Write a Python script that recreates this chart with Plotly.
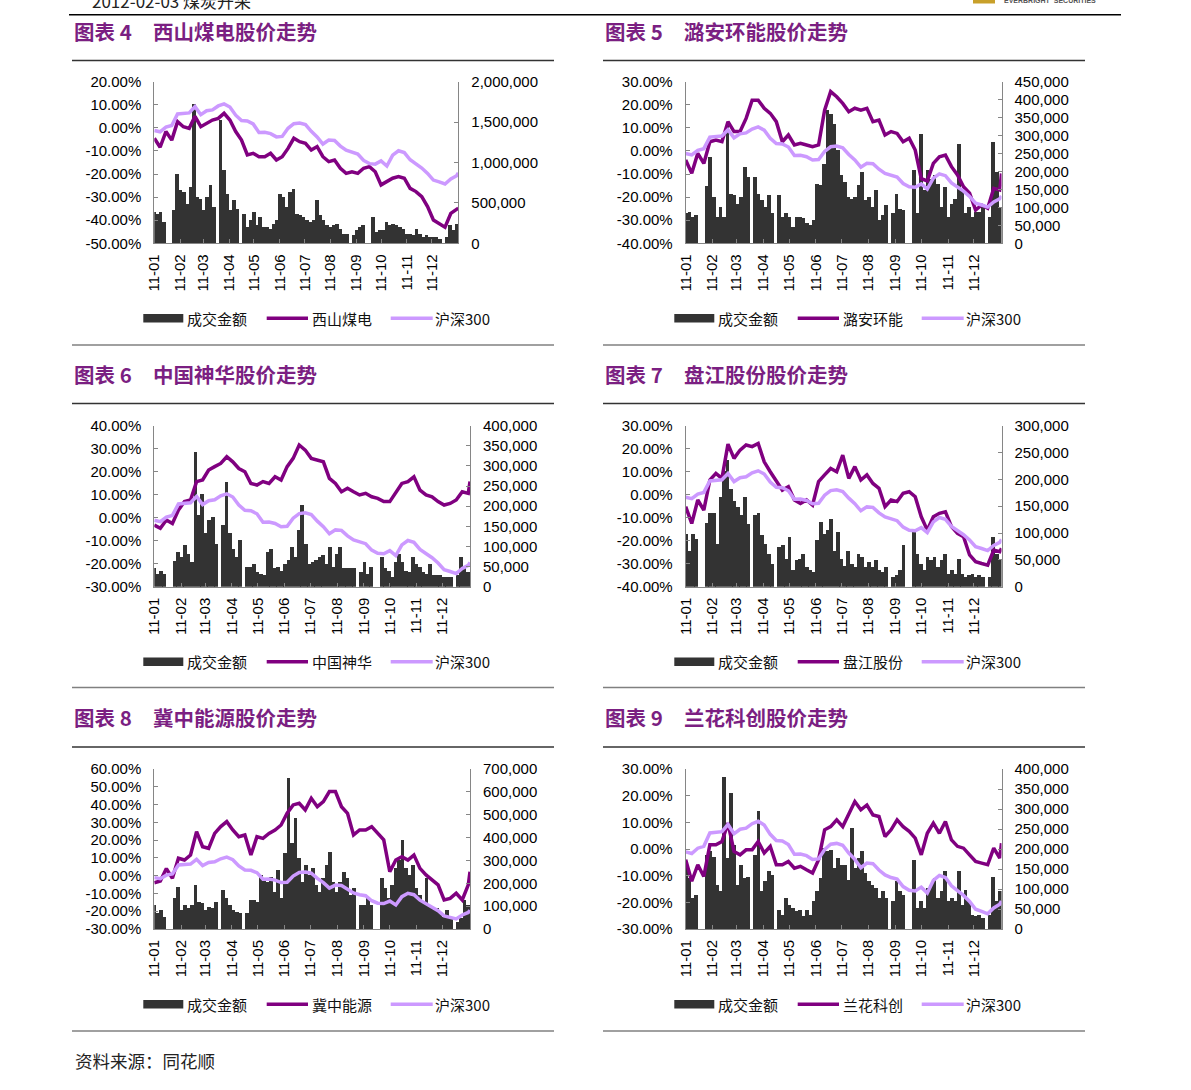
import plotly.graph_objects as go
import pandas as pd

W, H = 1191, 1090
START = pd.Timestamp("2011-01-18")
END = pd.Timestamp("2012-01-19")

# weekly points for price lines (last point = end of data), every 4 days for turnover bars
line_dates = [START + pd.Timedelta(days=7 * k) for k in range(53)] + [END]
bar_dates = [START + pd.Timedelta(days=4 * j) for j in range(92)]
month_ticks = [pd.Timestamp(2011, m, 18) for m in range(1, 13)]
month_labels = ["11-%02d" % m for m in range(1, 13)]

# 沪深300 cumulative change (%)
hs300 = [-1.1, -1.7, 0.3, 1.0, 6.0, 6.1, 6.5, 9.2, 5.7, 7.4,
         7.8, 9.5, 10.4, 9.0, 5.5, 3.2, 3.0, 1.7, -2.0, -1.9,
         -2.5, -3.9, -3.7, -0.2, 1.8, 2.1, 1.4, -1.5, -3.9, -7.0,
         -5.3, -5.5, -7.9, -9.7, -10.7, -11.3, -14.1, -15.5, -15.7, -14.3,
         -16.5, -11.8, -9.9, -10.7, -13.8, -15.6, -17.4, -19.7, -22.6, -23.4,
         -24.3, -22.1, -20.7, -19.5]

# stock cumulative change (%)
xishan = [-4.5, -8.4, -1.6, -5.3, 2.7, 0.5, -0.2, 5.0, 0.5, 2.0,
          3.4, 4.1, 6.3, 3.4, -1.6, -5.3, -11.7, -11.0, -12.5, -12.5,
          -11.0, -13.9, -12.5, -8.9, -4.5, -6.0, -6.7, -9.6, -8.1, -12.5,
          -14.6, -13.9, -17.5, -19.7, -19.0, -19.7, -17.5, -16.8, -19.0, -24.7,
          -23.3, -21.8, -21.1, -21.8, -26.2, -27.6, -29.8, -34.1, -39.9, -41.3,
          -43.0, -37.0, -35.6, -34.8]
luan = [-3.9, -9.7, -1.0, -5.4, 4.0, 4.7, 4.0, 12.7, 8.4, 8.4,
        14.1, 22.0, 22.0, 18.5, 16.3, 12.7, 4.0, 6.9, 2.6, 3.3,
        2.6, 1.9, 2.6, 17.7, 25.7, 23.5, 20.6, 17.0, 18.5, 17.7,
        18.5, 12.7, 13.4, 6.9, 8.4, 7.6, 4.0, 5.5, 0.4, -12.0,
        -13.0, -5.4, -2.5, -1.8, -6.8, -10.4, -15.5, -18.3, -25.6, -23.4,
        -24.8, -16.2, -16.9, -9.7]
shenhua = [-3.2, -4.6, -1.0, -2.5, 3.3, 7.0, 7.7, 15.7, 16.4, 20.7,
           22.2, 23.6, 26.5, 24.3, 21.4, 20.0, 14.9, 14.2, 15.7, 14.9,
           17.8, 16.4, 22.2, 25.8, 31.6, 29.4, 25.8, 25.1, 24.3, 17.1,
           14.9, 11.3, 12.8, 11.3, 9.9, 10.6, 9.1, 8.4, 7.0, 7.0,
           11.3, 14.9, 15.7, 17.8, 12.0, 9.9, 9.1, 7.0, 5.5, 6.2,
           7.7, 11.3, 10.6, 15.7]
panjiang = [-5.2, -12.5, -2.3, -6.7, 6.4, 9.3, 7.1, 22.0, 15.8, 19.4,
            21.6, 20.9, 22.3, 14.3, 10.0, 5.7, 2.0, 3.5, -2.3, -3.8,
            -2.3, -4.5, 5.7, 8.6, 11.4, 10.0, 17.2, 7.1, 12.2, 6.4,
            8.6, 4.9, 2.8, -5.2, -2.3, -3.0, 0.6, 1.3, -0.9, -9.6,
            -15.4, -9.6, -8.1, -7.4, -13.9, -16.8, -18.3, -26.2, -29.1, -29.9,
            -30.6, -24.1, -24.8, -23.3]
jizhong = [-4.0, -3.0, 4.0, -1.5, 9.8, 8.8, 11.6, 24.8, 16.3, 15.4,
           23.8, 27.6, 30.4, 25.7, 21.9, 22.9, 11.6, 21.9, 21.0, 23.8,
           25.7, 28.5, 35.1, 39.8, 40.7, 37.0, 43.5, 38.8, 41.6, 47.3,
           47.3, 38.8, 35.1, 22.9, 25.7, 25.7, 27.6, 23.8, 20.1, 2.2,
           8.8, 10.7, 8.8, 11.6, 4.1, 0.4, -2.4, -5.2, -13.7, -12.8,
           -9.9, -13.7, -5.2, 2.2]
lanhua = [-4.0, -12.1, -5.9, -10.3, 1.6, 1.6, 2.8, 9.7, -0.9, -2.2,
          -0.3, -0.3, 2.8, -1.5, 1.0, -5.9, -5.9, -4.7, -7.2, -6.5,
          -7.8, -9.0, -4.0, 7.2, 8.4, 10.9, 8.4, 12.8, 17.8, 14.7,
          16.5, 12.8, 12.2, 4.7, 7.2, 10.9, 8.4, 6.6, 4.1, -2.2,
          5.9, 9.7, 5.9, 10.3, 3.4, 1.0, 0.3, -2.2, -4.7, -5.3,
          -5.9, 0.3, -3.4, 2.2]

# 成交金额 (thousands); None = market closed
N = None
vol_xishan = [392, 371, 392, 268, N, N, 412, 866, 660, 639,
              495, 701, 1732, 577, 557, 412, 577, 722, 454, N,
              1526, 907, 619, 412, 536, 433, N, 371, 206, 289,
              392, 227, 330, 206, 206, 186, 247, 289, 619, 577,
              454, 639, 680, 371, 350, 330, 289, 268, 289, 536,
              350, 289, 227, 206, 227, 247, 186, 124, 124, N,
              103, 165, 206, 227, N, N, 330, 144, 165, 165,
              268, 227, 247, 227, 206, 186, 124, 124, 103, 186,
              124, 82, 103, 82, 82, 82, 62, N, 82, 227,
              165, 247]
vol_luan = [84, 88, 74, 79, N, N, 160, 241, 130, 74,
            102, 74, 339, 139, 135, 111, 130, 213, 186, N,
            186, 139, 121, 102, 135, 84, N, 135, 74, 84,
            74, 46, 74, 74, 70, 56, 51, 65, 167, 162,
            223, 371, 362, 334, 260, 190, 172, 130, 125, 130,
            162, 199, 121, 130, 102, 148, 65, 79, 107, N,
            84, 139, 97, 93, N, N, 204, 84, 306, 148,
            204, 181, 190, 167, 102, 158, 74, 111, 125, 278,
            148, 84, 102, 74, 88, 88, 102, N, 74, 283,
            199, 102]
vol_shenhua = [46, 33, 41, 33, N, N, 65, 87, 75, 104,
               83, 62, 335, 178, 232, 133, 166, 174, 108, N,
               153, 261, 133, 95, 75, 116, N, 50, 50, 58,
               37, 33, 29, 87, 95, 46, 50, 41, 58, 66,
               99, 75, 141, 203, 108, 58, 62, 66, 75, 79,
               58, 99, 50, 83, 99, 46, 46, 46, 46, N,
               37, 62, 33, 50, N, N, 75, 46, 41, 25,
               62, 83, 62, 41, 37, 75, 58, 50, 37, 33,
               58, 29, 29, 29, 25, 25, 25, N, 29, 75,
               50, 37]
vol_panjiang = [99, 68, 99, 90, N, N, 120, 137, 137, 81,
                168, 217, 236, 183, 161, 149, 134, 168, 118, N,
                134, 137, 96, 81, 62, 43, N, 75, 78, 53,
                93, 31, 50, 53, 62, 37, 31, 28, 87, 121,
                99, 106, 127, 68, 102, 53, 40, 68, 43, 37,
                62, 56, 37, 47, 37, 50, 31, 28, 37, N,
                19, 22, 31, 78, N, N, 106, 62, 43, 31,
                56, 50, 56, 37, 50, 62, 25, 31, 25, 53,
                25, 19, 22, 25, 19, 22, 19, N, 19, 93,
                62, 53]
vol_jizhong = [105, 69, 83, 54, N, N, 134, 185, 83, 105,
               90, 105, 192, 120, 112, 83, 98, 90, 120, N,
               171, 134, 105, 83, 76, 69, N, 69, 127, 127,
               120, 236, 214, 207, 229, 163, 258, 134, 331, 659,
               375, 484, 309, 207, 280, 236, 265, 192, 163, 222,
               280, 338, 207, 163, 207, 251, 222, 149, 178, N,
               105, 105, 134, 105, N, N, 222, 178, 134, 192,
               265, 302, 389, 265, 236, 280, 178, 149, 120, 222,
               105, 98, 90, 76, 54, 83, 47, N, 32, 47,
               127, 105]
vol_lanhua = [160, 127, 77, 86, N, N, 185, 194, 181, 111,
              94, 381, 177, 339, 210, 111, 160, 127, 131, N,
              185, 294, 94, 119, 144, 136, N, 48, 36, 77,
              61, 52, 44, 48, 32, 48, 36, 69, 94, 127,
              202, 194, 198, 152, 177, 160, 160, 123, 252, 152,
              177, 194, 140, 119, 111, 102, 77, 94, 77, N,
              69, 119, 94, 86, N, N, 173, 52, 69, 52,
              102, 111, 127, 77, 94, 144, 69, 77, 69, 144,
              61, 98, 69, 36, 32, 36, 27, N, 36, 131,
              69, 94]

panels = [
    dict(no=4, name="西山煤电", stock=xishan, vol=vol_xishan, pr=(-50, 20), vmax=2000000, vd=500000,
         box=(154.3, 458.3, 81.7, 243.3), col=0, row=0),
    dict(no=5, name="潞安环能", stock=luan, vol=vol_luan, pr=(-40, 30), vmax=450000, vd=50000,
         box=(685.7, 1001.5, 81.7, 243.3), col=1, row=0),
    dict(no=6, name="中国神华", stock=shenhua, vol=vol_shenhua, pr=(-30, 40), vmax=400000, vd=50000,
         box=(154.3, 470.0, 425.7, 586.7), col=0, row=1),
    dict(no=7, name="盘江股份", stock=panjiang, vol=vol_panjiang, pr=(-40, 30), vmax=300000, vd=50000,
         box=(685.7, 1001.5, 425.7, 586.7), col=1, row=1),
    dict(no=8, name="冀中能源", stock=jizhong, vol=vol_jizhong, pr=(-30, 60), vmax=700000, vd=100000,
         box=(154.3, 470.0, 769.0, 929.0), col=0, row=2),
    dict(no=9, name="兰花科创", stock=lanhua, vol=vol_lanhua, pr=(-30, 30), vmax=400000, vd=50000,
         box=(685.7, 1001.5, 769.0, 929.0), col=1, row=2),
]

PURPLE = "#800080"
LIGHT = "#CC99FF"
BAR = "#333333"
AXC = "#868686"
TITLE_C = "#7B1F82"
LAT = "Liberation Sans, Arial, sans-serif"
CJK = "Noto Sans CJK SC, sans-serif"


def px(x):
    return x / W


def py(y):
    return 1 - y / H


fig = go.Figure()
layout = dict(width=W, height=H, margin=dict(l=0, r=0, t=0, b=0), paper_bgcolor="white",
              plot_bgcolor="rgba(0,0,0,0)", showlegend=False, shapes=[], annotations=[],
              bargap=0)

title_y = [31, 374, 717]
top_rule = [60.5, 403.5, 747]
bot_rule = [345, 687.5, 1031]
leg_y = [318.3, 661.7, 1004.3]
col_off = [0, 531.0]

for i, p in enumerate(panels):
    xn = "" if i == 0 else str(i + 1)
    yb = 2 * i + 1
    yl = 2 * i + 2
    ybn = "" if yb == 1 else str(yb)
    yln = str(yl)
    x0, x1, t, b = p["box"]
    vols = [v * 1000 if v is not None else None for v in p["vol"]]
    fig.add_trace(go.Bar(x=bar_dates[:len(vols)], y=vols, marker=dict(color=BAR, line=dict(width=0)),
                         width=4.4 * 86400000, xaxis="x" + xn, yaxis="y" + ybn))
    fig.add_trace(go.Scatter(x=line_dates[:len(p["stock"])], y=p["stock"], mode="lines",
                             line=dict(color=PURPLE, width=3.5), xaxis="x" + xn, yaxis="y" + yln))
    fig.add_trace(go.Scatter(x=line_dates[:len(hs300)], y=hs300, mode="lines",
                             line=dict(color=LIGHT, width=3.5), xaxis="x" + xn, yaxis="y" + yln))

    layout["xaxis" + xn] = dict(domain=[px(x0), px(x1)], anchor="y" + ybn, type="date",
                                range=[START, END], tickvals=month_ticks, ticktext=month_labels,
                                tickangle=-90, ticks="inside", ticklen=4, tickcolor=AXC,
                                showline=True, linecolor=AXC, linewidth=1, showgrid=False,
                                zeroline=False, automargin=False, ticklabelstandoff=4,
                                tickfont=dict(family=LAT, size=15, color="#000"))
    vt = list(range(0, p["vmax"] + 1, p["vd"]))
    layout["yaxis" + ybn] = dict(domain=[py(b), py(t)], anchor="x" + xn, side="right",
                                 range=[0, p["vmax"]], tickvals=vt, ticktext=[f"{v:,}" for v in vt],
                                 ticks="inside", ticklen=4, tickcolor=AXC, showline=True,
                                 linecolor=AXC, linewidth=1, showgrid=False, zeroline=False,
                                 automargin=False, ticklabelstandoff=9,
                                 tickfont=dict(family=LAT, size=15, color="#000"))
    pt = list(range(p["pr"][0], p["pr"][1] + 1, 10))
    layout["yaxis" + yln] = dict(overlaying="y" + ybn, anchor="x" + xn, side="left",
                                 range=list(p["pr"]), tickvals=pt,
                                 ticktext=[f"{v:.2f}%" for v in pt],
                                 ticks="inside", ticklen=4, tickcolor=AXC, showline=True,
                                 linecolor=AXC, linewidth=1, showgrid=False, zeroline=False,
                                 automargin=False, ticklabelstandoff=9,
                                 tickfont=dict(family=LAT, size=15, color="#000"))

    r, c = p["row"], p["col"]
    o = col_off[c]
    # title
    layout["annotations"].append(dict(text="<b>图表 %d</b>" % p["no"], x=px(72 + o), y=py(title_y[r]),
                                      xref="paper", yref="paper", xanchor="left", yanchor="middle",
                                      showarrow=False, font=dict(family=CJK, size=20.5, color=TITLE_C)))
    layout["annotations"].append(dict(text="<b>%s股价走势</b>" % p["name"], x=px(151 + o), y=py(title_y[r]),
                                      xref="paper", yref="paper", xanchor="left", yanchor="middle",
                                      showarrow=False, font=dict(family=CJK, size=20.5, color=TITLE_C)))
    # rules
    layout["shapes"].append(dict(type="line", xref="paper", yref="paper", x0=px(72 + o), x1=px(554 + o),
                                 y0=py(top_rule[r]), y1=py(top_rule[r]), line=dict(color="#333333", width=1.3)))
    layout["shapes"].append(dict(type="line", xref="paper", yref="paper", x0=px(72 + o), x1=px(554 + o),
                                 y0=py(bot_rule[r]), y1=py(bot_rule[r]), line=dict(color="#808080", width=1.6)))
    # legend
    ly = leg_y[r]
    layout["shapes"].append(dict(type="rect", xref="paper", yref="paper", x0=px(143.3 + o), x1=px(183.3 + o),
                                 y0=py(ly + 4.3), y1=py(ly - 4.3), fillcolor=BAR, line=dict(width=0)))
    layout["shapes"].append(dict(type="line", xref="paper", yref="paper", x0=px(266.7 + o), x1=px(308 + o),
                                 y0=py(ly), y1=py(ly), line=dict(color=PURPLE, width=3.5)))
    layout["shapes"].append(dict(type="line", xref="paper", yref="paper", x0=px(390.7 + o), x1=px(432.7 + o),
                                 y0=py(ly), y1=py(ly), line=dict(color=LIGHT, width=3.5)))
    for tx, lx in (("成交金额", 184.5), (p["name"], 309.5), ("沪深300", 433.0)):
        layout["annotations"].append(dict(text=tx, x=px(lx + o), y=py(ly), xref="paper", yref="paper",
                                          xanchor="left", yanchor="middle", showarrow=False,
                                          font=dict(family=CJK, size=15, color="#111")))

# page header / footer
layout["shapes"].append(dict(type="line", xref="paper", yref="paper", x0=px(69), x1=px(1121),
                             y0=py(14.7), y1=py(14.7), line=dict(color="#000", width=1.5)))
layout["shapes"].append(dict(type="rect", xref="paper", yref="paper", x0=px(973), x1=px(995),
                             y0=py(3.5), y1=py(-2), fillcolor="#C8A02A", line=dict(width=0)))
layout["annotations"].append(dict(text="2012-02-03 煤炭开采", x=px(90), y=py(1.0), xref="paper", yref="paper",
                                  xanchor="left", yanchor="middle", showarrow=False,
                                  font=dict(family=CJK, size=17, color="#222")))
layout["annotations"].append(dict(text="<b>EVERBRIGHT  SECURITIES</b>", x=px(1002), y=py(1.0), xref="paper",
                                  yref="paper", xanchor="left", yanchor="middle", showarrow=False,
                                  font=dict(family=LAT, size=7, color="#555")))
layout["annotations"].append(dict(text="资料来源：同花顺", x=px(73), y=py(1060), xref="paper", yref="paper",
                                  xanchor="left", yanchor="middle", showarrow=False,
                                  font=dict(family=CJK, size=17.5, color="#222")))

fig.update_layout(**layout)
fig.write_html("out.html")
